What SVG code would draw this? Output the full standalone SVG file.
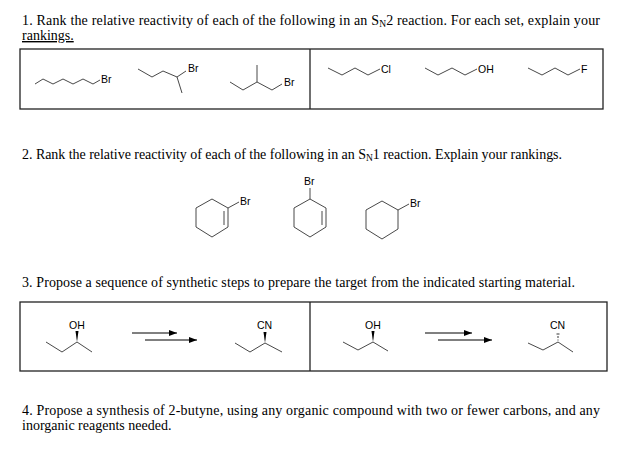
<svg xmlns="http://www.w3.org/2000/svg" width="633" height="475" viewBox="0 0 633 475">
<style>
.t{font-family:"Liberation Serif",serif;font-size:14px;fill:#000}
.s{font-size:9.5px}
.a{font-family:"Liberation Sans",sans-serif;font-size:10.5px;fill:#000}
.b{fill:none;stroke:#333;stroke-width:0.9}
.box{fill:none;stroke:#222;stroke-width:1.3}
</style>
<defs><marker id="ar" viewBox="0 0 8 6" refX="8" refY="3" markerWidth="8" markerHeight="6" orient="auto" markerUnits="userSpaceOnUse"><path d="M0,0L8,3L0,6z" fill="#000"/></marker></defs>
<rect fill="#fff" width="633" height="475"/>
<g id="q1">
<text class="t" x="22" y="25" textLength="578" lengthAdjust="spacing">1.  Rank the relative reactivity of each of the following in an S<tspan class="s" dy="2">N</tspan><tspan dy="-2">2 reaction.  For each set, explain your</tspan></text>
<text class="t" x="22" y="40" text-decoration="underline">rankings.</text>
<rect class="box" x="20" y="49" width="583" height="60"/><line class="box" x1="310" y1="49" x2="310" y2="109"/>
<g id="m1"><polyline class="b" points="35,84 43,79 53,84 63,79 73,84 83,79 93,84 100,80"/><text class="a" x="101" y="83">Br</text></g>
<g id="m2"><polyline class="b" points="138,69 152,77 163,71 177,77 186,71"/><line class="b" x1="177" y1="77" x2="182" y2="93"/><text class="a" x="188" y="72">Br</text></g>
<g id="m3"><polyline class="b" points="230,82 243,90 257,82 272,90 282,84"/><line class="b" x1="257" y1="82" x2="257" y2="65"/><text class="a" x="284" y="86">Br</text></g>
<g id="m4"><polyline class="b" points="328,68 342,75 355,68 368,75 380,69"/><text class="a" x="381" y="73">Cl</text></g>
<g id="m5"><polyline class="b" points="425,68 438,75 452,68 465,75 477,69"/><text class="a" x="478" y="73">OH</text></g>
<g id="m6"><polyline class="b" points="528,68 542,75 555,68 568,75 580,69"/><text class="a" x="581" y="73">F</text></g>
</g>
<g id="q2">
<text class="t" x="22" y="159" textLength="540" lengthAdjust="spacing">2.  Rank the relative reactivity of each of the following in an S<tspan class="s" dy="2">N</tspan><tspan dy="-2">1 reaction.  Explain your rankings.</tspan></text>
<g id="r1"><polygon class="b" points="212,199 228,208 228,227 212,237 196,227 196,208"/><line class="b" x1="224" y1="211" x2="224" y2="225"/><line class="b" x1="228" y1="208" x2="239" y2="202"/><text class="a" x="240" y="205">Br</text></g>
<g id="r2"><polygon class="b" points="310,199 326,208 326,227 310,237 294,227 294,208"/><line class="b" x1="322" y1="211" x2="322" y2="225"/><line class="b" x1="310" y1="199" x2="310" y2="188"/><text class="a" x="304" y="185">Br</text></g>
<g id="r3"><polygon class="b" points="382,201 398,210 398,229 382,239 366,229 366,210"/><line class="b" x1="398" y1="210" x2="409" y2="204"/><text class="a" x="410" y="207">Br</text></g>
</g>
<g id="q3">
<text class="t" x="22" y="287" textLength="553" lengthAdjust="spacing">3.  Propose a sequence of synthetic steps to prepare the target from the indicated starting material.</text>
<rect class="box" x="20" y="302" width="587" height="69"/><line class="box" x1="310" y1="302" x2="310" y2="371"/>
<g id="s1"><polyline class="b" points="46,342 62,352 77,342 92,352"/><polygon points="77,342 75.5,331 78.5,331" fill="#000"/><text class="a" x="69" y="329">OH</text></g>
<g id="p1"><polyline class="b" points="235,343 250,352 265,343 282,352"/><polygon points="265,343 263.5,332 266.5,332" fill="#000"/><text class="a" x="257" y="329">CN</text></g>
<g id="s2"><polyline class="b" points="343,342 358,350 373,342 388,351"/><polygon points="373,342 371.5,331 374.5,331" fill="#000"/><text class="a" x="365" y="329">OH</text></g>
<g id="p2"><polyline class="b" points="528,343 543,350 558,342 573,352"/><g stroke="#000" stroke-width="0.8"><line x1="557.5" y1="340" x2="558.5" y2="340"/><line x1="557" y1="337" x2="559" y2="337"/><line x1="556.5" y1="334" x2="559.5" y2="334"/></g><text class="a" x="550" y="329">CN</text></g>
</g>
<g id="connectors" stroke="#000" stroke-width="1">
<line x1="132" y1="333" x2="177" y2="333" marker-end="url(#ar)"/>
<line x1="145" y1="340" x2="197" y2="340" marker-end="url(#ar)"/>
<line x1="425" y1="333" x2="472" y2="333" marker-end="url(#ar)"/>
<line x1="438" y1="340" x2="492" y2="340" marker-end="url(#ar)"/>
</g>
<g id="q4">
<text class="t" x="22" y="415" textLength="578" lengthAdjust="spacing">4.  Propose a synthesis of 2-butyne, using any organic compound with two or fewer carbons, and any</text>
<text class="t" x="22" y="430">inorganic reagents needed.</text>
</g>
</svg>
